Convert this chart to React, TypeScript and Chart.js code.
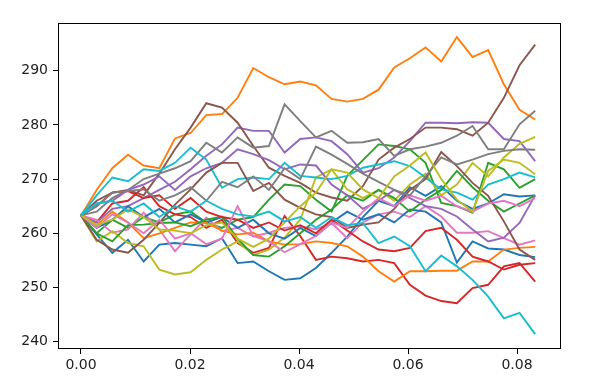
import React, { useEffect, useRef } from "react";
import { Chart, registerables } from "chart.js";

Chart.register(...registerables);

// time grid: 30 observations over one month (1/12 year)
const HORIZON = 1 / 12;
const N_POINTS = 30;
const times: number[] = Array.from({ length: N_POINTS }, (_, i) => (i * HORIZON) / (N_POINTS - 1));

const xTicks = [0, 0.02, 0.04, 0.06, 0.08];
const yTicks = [240, 250, 260, 270, 280, 290];

const blueA = [263.3, 259.8, 256.4, 258.8, 254.8, 257.9, 258.2, 257.9, 257.6, 259.1, 254.5, 254.8, 253.0, 251.4, 251.7, 253.6, 256.4, 259.4, 263.0, 266.0, 265.0, 268.5, 266.9, 268.7, 266.0, 264.5, 265.5, 267.2, 266.8, 267.0];
const orangeA = [263.3, 268.0, 272.0, 274.5, 272.5, 272.0, 277.5, 278.5, 281.8, 282.0, 285.0, 290.5, 288.8, 287.5, 288.0, 287.3, 284.8, 284.3, 284.8, 286.5, 290.6, 292.3, 294.3, 291.7, 296.2, 292.5, 293.8, 287.5, 282.8, 281.0];
const greenA = [263.3, 260.0, 262.5, 261.0, 263.0, 262.0, 263.5, 264.0, 262.0, 261.0, 262.5, 263.0, 266.2, 269.0, 268.7, 266.2, 264.0, 270.6, 273.5, 276.4, 276.1, 275.5, 273.0, 265.6, 265.0, 263.8, 273.0, 271.8, 268.4, 270.0];
const redA = [263.3, 262.0, 265.5, 266.0, 268.5, 265.0, 263.5, 263.0, 261.0, 262.5, 258.2, 256.4, 257.3, 263.2, 259.5, 255.1, 255.7, 255.4, 254.8, 255.1, 254.5, 250.5, 248.5, 247.5, 247.1, 249.9, 250.5, 253.9, 254.5, 251.1];
const purpleA = [263.3, 262.0, 264.5, 265.0, 266.5, 268.0, 269.5, 271.8, 274.3, 276.4, 279.5, 278.9, 278.9, 274.9, 277.4, 277.7, 277.0, 274.6, 271.2, 272.0, 274.0, 277.0, 280.4, 280.4, 280.3, 280.5, 280.4, 277.4, 277.0, 273.3];
const brownA = [263.3, 266.0, 267.5, 268.0, 267.0, 271.0, 275.5, 279.5, 284.0, 283.2, 280.4, 276.1, 272.1, 270.6, 269.3, 267.5, 266.6, 266.0, 268.7, 273.6, 275.8, 277.4, 279.5, 279.5, 279.2, 278.0, 280.4, 285.0, 291.0, 294.8];
const pinkA = [263.3, 262.5, 260.1, 260.7, 263.8, 260.7, 256.7, 259.8, 262.9, 260.4, 261.0, 259.4, 260.1, 261.0, 261.3, 260.7, 261.9, 259.1, 262.0, 263.5, 264.0, 263.0, 265.0, 263.1, 260.1, 260.1, 260.4, 259.1, 257.9, 258.7];
const grayA = [263.3, 264.0, 266.5, 268.0, 270.0, 271.0, 272.0, 273.3, 276.7, 274.9, 277.7, 275.8, 276.1, 283.8, 280.7, 277.7, 278.9, 276.7, 276.8, 277.4, 274.3, 275.5, 276.0, 276.7, 278.0, 279.8, 275.5, 275.5, 280.1, 282.6];
const oliveA = [263.3, 258.5, 260.4, 258.2, 257.6, 253.3, 252.4, 252.8, 255.1, 257.0, 258.5, 256.0, 257.0, 259.2, 262.5, 270.3, 271.8, 268.1, 266.5, 268.0, 266.0, 269.0, 271.0, 267.0, 269.0, 273.0, 270.5, 274.0, 276.5, 277.8];
const cyanA = [263.3, 267.0, 270.3, 269.6, 271.8, 271.5, 273.0, 275.8, 273.6, 268.4, 270.0, 270.3, 270.0, 273.0, 270.6, 270.3, 270.0, 270.6, 272.1, 272.7, 273.3, 272.4, 270.3, 268.1, 267.5, 266.2, 269.0, 270.0, 271.2, 270.3];

const blueB = [263.3, 261.0, 262.5, 265.0, 263.0, 264.5, 262.0, 263.5, 262.0, 263.0, 261.0, 262.5, 260.0, 259.0, 261.0, 259.5, 262.0, 264.0, 262.5, 263.5, 262.0, 264.4, 264.0, 262.0, 254.6, 258.5, 257.2, 257.0, 256.0, 255.6];
const orangeB = [263.3, 261.5, 264.0, 262.0, 259.1, 260.0, 261.0, 262.0, 261.9, 260.5, 259.8, 260.1, 258.5, 257.9, 258.0, 258.5, 258.2, 257.6, 255.7, 253.0, 251.1, 253.0, 253.0, 253.1, 253.1, 254.8, 254.8, 257.0, 257.3, 257.5];
const greenB = [263.3, 260.0, 258.5, 261.5, 261.6, 261.9, 262.0, 261.3, 262.5, 263.1, 259.0, 256.0, 255.7, 257.6, 260.0, 262.5, 264.4, 267.0, 266.0, 268.0, 266.5, 264.0, 266.2, 268.0, 271.5, 268.5, 266.0, 264.0, 265.5, 267.0];
const redB = [263.3, 265.0, 267.5, 267.8, 266.5, 267.0, 264.5, 266.5, 264.0, 263.0, 262.5, 261.0, 262.0, 260.5, 261.5, 260.0, 262.5, 260.5, 258.5, 257.0, 256.7, 257.3, 260.4, 261.0, 258.8, 255.7, 254.8, 253.3, 254.2, 254.5];
const purpleB = [263.3, 265.5, 266.0, 268.0, 269.0, 270.5, 268.0, 270.5, 272.0, 273.0, 275.5, 274.6, 273.5, 271.8, 272.7, 272.5, 269.0, 267.0, 264.5, 266.0, 268.0, 266.5, 265.0, 264.5, 263.1, 260.7, 258.5, 259.2, 261.9, 267.0];
const brownB = [263.3, 258.8, 257.0, 256.4, 258.8, 261.9, 265.3, 268.1, 271.2, 273.0, 273.0, 267.8, 269.3, 266.2, 264.7, 263.5, 263.0, 261.0, 261.6, 262.0, 264.5, 268.0, 270.0, 275.0, 272.4, 269.3, 266.9, 262.2, 257.0, 255.1];
const pinkB = [263.3, 261.0, 263.5, 262.0, 260.0, 262.5, 259.0, 260.0, 258.0, 259.0, 265.0, 259.5, 258.5, 256.5, 258.0, 259.5, 262.0, 261.0, 264.0, 266.5, 265.0, 267.0, 266.0, 266.9, 265.0, 264.0, 265.5, 266.0, 265.0, 266.5];
const grayB = [263.3, 265.0, 267.5, 267.8, 268.1, 266.0, 267.0, 268.5, 266.0, 269.5, 268.5, 270.5, 268.0, 272.0, 270.0, 276.0, 274.5, 272.8, 271.0, 269.5, 268.0, 267.0, 270.5, 274.0, 272.7, 273.6, 274.6, 275.2, 275.5, 275.4];
const oliveB = [263.3, 261.5, 262.5, 264.4, 263.0, 260.7, 260.5, 260.0, 261.5, 262.0, 259.0, 257.5, 259.0, 262.0, 265.0, 267.5, 271.8, 271.2, 268.1, 266.5, 270.5, 272.5, 274.9, 270.0, 266.2, 264.0, 271.5, 273.6, 273.0, 270.9];
const cyanB = [263.3, 265.5, 266.0, 264.0, 265.5, 263.0, 265.0, 264.0, 266.0, 264.5, 263.5, 263.1, 264.0, 262.2, 263.0, 261.0, 263.0, 261.5, 261.9, 258.2, 259.4, 257.6, 253.0, 255.9, 253.9, 251.4, 248.3, 244.3, 245.3, 241.4];

const paths = [
  blueA, orangeA, greenA, redA, purpleA, brownA, pinkA, grayA, oliveA, cyanA,
  blueB, orangeB, greenB, redB, purpleB, brownB, pinkB, grayB, oliveB, cyanB,
];

const palette = [
  "#1f77b4", "#ff7f0e", "#2ca02c", "#d62728", "#9467bd",
  "#8c564b", "#e377c2", "#7f7f7f", "#bcbd22", "#17becf",
];

const FONT = { family: "'DejaVu Sans', sans-serif", size: 14 };

const framePlugin = {
  id: "frame",
  afterDatasetsDraw(chart: any) {
    const { ctx, chartArea } = chart;
    ctx.save();
    ctx.strokeStyle = "#000";
    ctx.lineWidth = 1;
    ctx.strokeRect(
      Math.round(chartArea.left) + 0.5,
      Math.round(chartArea.top) + 0.5,
      Math.round(chartArea.right - chartArea.left) - 1,
      Math.round(chartArea.bottom - chartArea.top) - 1
    );
    ctx.restore();
  },
};

export default function App() {
  const canvasRef = useRef<HTMLCanvasElement | null>(null);

  useEffect(() => {
    if (!canvasRef.current) return;
    const n = paths.length;
    const datasets = paths.map((vals, i) => ({
      data: vals.map((v, k) => ({ x: times[k], y: v })),
      borderColor: palette[i % palette.length],
      backgroundColor: palette[i % palette.length],
      borderWidth: 1.9,
      pointRadius: 0,
      tension: 0,
      fill: false,
      order: n - i,
    }));

    const chart = new Chart(canvasRef.current, {
      type: "line",
      data: { datasets },
      options: {
        animation: false,
        responsive: false,
        devicePixelRatio: 1,
        layout: { padding: { left: 0, right: 44, top: 23, bottom: 0 } },
        plugins: { legend: { display: false }, tooltip: { enabled: false } },
        scales: {
          x: {
            type: "linear",
            min: -0.00422,
            max: 0.08807,
            afterBuildTicks: (s: any) => {
              s.ticks = xTicks.map((v) => ({ value: v }));
            },
            afterFit: (s: any) => {
              s.height = 39;
            },
            ticks: {
              callback: (v: any) => Number(v).toFixed(2),
              font: FONT,
              color: "#222",
              padding: 3,
              maxRotation: 0,
              autoSkip: false,
            },
            grid: { drawOnChartArea: false, drawTicks: true, tickLength: 5, color: "#000", lineWidth: 1 },
            border: { display: false },
          },
          y: {
            type: "linear",
            min: 238.65,
            max: 298.8,
            afterBuildTicks: (s: any) => {
              s.ticks = yTicks.map((v) => ({ value: v }));
            },
            afterFit: (s: any) => {
              s.width = 58;
            },
            ticks: {
              callback: (v: any) => String(v),
              font: FONT,
              color: "#222",
              padding: 5,
              autoSkip: false,
            },
            grid: { drawOnChartArea: false, drawTicks: true, tickLength: 5, color: "#000", lineWidth: 1 },
            border: { display: false },
          },
        },
      },
      plugins: [framePlugin],
    });
    return () => chart.destroy();
  }, []);

  return (
    <div style={{ position: "absolute", left: 0, top: 0, width: 605, height: 388, background: "#fff" }}>
      <canvas ref={canvasRef} width={605} height={388} style={{ width: 605, height: 388 }} />
    </div>
  );
}
